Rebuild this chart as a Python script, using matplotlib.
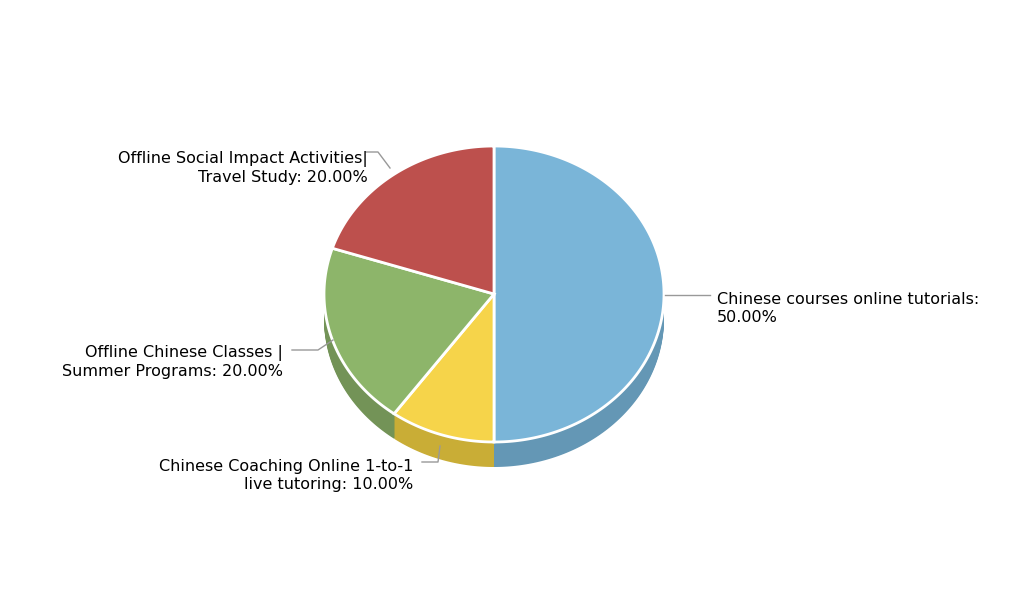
import numpy as np
import matplotlib
matplotlib.use("Agg")
import matplotlib.pyplot as plt
from matplotlib.patches import Polygon

labels = ["Chinese courses online tutorials:\n50.00%",
          "Chinese Coaching Online 1-to-1\nlive tutoring: 10.00%",
          "Offline Chinese Classes |\nSummer Programs: 20.00%",
          "Offline Social Impact Activities|\nTravel Study: 20.00%"]
values = [50, 10, 20, 20]
colors = ["#7ab5d8", "#f6d44a", "#8db56a", "#bd504d"]
dark = ["#6497b5", "#c9ad36", "#739357", "#9b4240"]

cx, cy, rx, ry, depth = 494, 294, 170, 148, 25

fig = plt.figure(figsize=(10.24, 6.15), dpi=100)
ax = fig.add_axes([0, 0, 1, 1])
ax.set_xlim(0, 1024); ax.set_ylim(615, 0); ax.axis("off")

fr = np.cumsum([0] + values) / sum(values)
def wedge(i, dy=0):
    a = np.linspace(np.pi/2 - 2*np.pi*fr[i], np.pi/2 - 2*np.pi*fr[i+1], 200)
    xs = np.r_[cx, cx + rx*np.cos(a)]
    ys = np.r_[cy + dy, cy + dy - ry*np.sin(a)]
    return np.c_[xs, ys]

for d in np.linspace(depth, 1, 25):
    for i in range(len(values)):
        ax.add_patch(Polygon(wedge(i, d), closed=True, fc=dark[i], ec="none"))
for i in range(len(values)):
    ax.add_patch(Polygon(wedge(i), closed=True, fc=colors[i], ec="white", lw=2))

lines = [[(665, 295), (710, 295)],
         [(440, 446), (438, 462), (422, 462)],
         [(333, 340), (318, 350), (292, 350)],
         [(390, 168), (378, 152), (366, 152)]]
for ln in lines:
    xs, ys = zip(*ln)
    ax.plot(xs, ys, color="#999999", lw=1)

fs = 11.5
ax.text(717, 308, labels[0], ha="left", va="center", fontsize=fs, linespacing=1.25)
ax.text(413, 475, labels[1], ha="right", va="center", fontsize=fs, linespacing=1.25)
ax.text(283, 362, labels[2], ha="right", va="center", fontsize=fs, linespacing=1.25)
ax.text(368, 168, labels[3], ha="right", va="center", fontsize=fs, linespacing=1.25)

fig.savefig("out.png", dpi=100)
